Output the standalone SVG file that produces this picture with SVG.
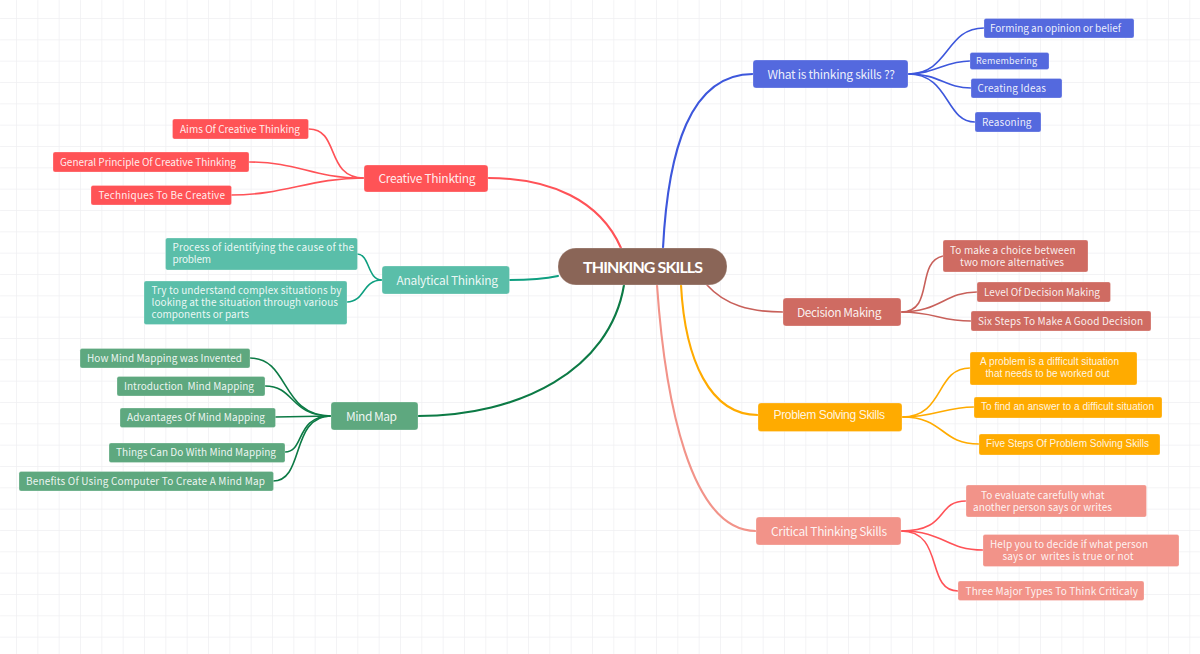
<svg xmlns="http://www.w3.org/2000/svg" width="1200" height="654" viewBox="0 0 1200 654">
<style>
text{fill:#fff;fill-opacity:.9;font-family:"Noto Sans CJK SC","Noto Sans",sans-serif;font-size:10px;dominant-baseline:central;white-space:pre}
.m{font-size:12px}.r{font-family:"Liberation Sans",Arial,sans-serif}
.t{font-family:Lato,"Noto Sans",sans-serif;font-size:16px;font-weight:700;fill-opacity:1}
.s{font-size:9px}
rect{stroke:#fff;stroke-opacity:.25;stroke-width:1}
.c path{fill:none;stroke-width:1.6;stroke-linecap:round}
.c .b{stroke-width:2.1}
.blue{fill:#5469de}.red{fill:#ff5356}.teal{fill:#5abea9}.green{fill:#5ea87f}.dec{fill:#cf6b62}.org{fill:#ffab00}.pink{fill:#f29389}.root{fill:#8a6557}
</style>
<defs><pattern id="g" x="16" y="18" width="21.333" height="21.333" patternUnits="userSpaceOnUse"><path d="M0 -1V22.4M-1 0H22.4" fill="none" stroke="#efeff2" stroke-width="1.4"/></pattern></defs>
<rect width="1200" height="654" fill="#fff" stroke="none"/>
<rect width="1200" height="654" fill="url(#g)" stroke="none"/>
<g id="connectors" class="c">
<g stroke="#3d57dc">
<path class="b" d="M663 248C668 150 690 74 753 74"/>
<path d="M908 74C950 74 945 28 984 28"/><path d="M908 74C935 74 945 61 970 61"/><path d="M908 74C940 74 945 88 971 88"/><path d="M908 74C950 74 945 122 975 122"/></g>
<g stroke="#ff5257">
<path class="b" d="M621 248C600 200 550 178 488 178"/>
<path d="M364 178C325 178 340 129 309 129"/><path d="M364 178C310 178 300 162 249 162"/><path d="M364 178C310 178 285 195 231 195"/></g>
<g stroke="#0e9f80">
<path class="b" d="M558 276C540 280 525 280 509 280"/>
<path d="M382 280C367 280 370 254 357 254"/><path d="M382 280C362 280 365 302 347 302"/></g>
<g stroke="#0c7a45">
<path class="b" d="M624 285C610 370 520 416 418 416"/>
<path d="M331 416C280 416 290 358 250 358"/><path d="M331 416C290 416 295 386 265 386"/><path d="M331 416L275 417"/><path d="M331 416C295 416 305 452 285 452"/><path d="M331 416C290 416 305 481 273 481"/></g>
<g stroke="#c8605a">
<path d="M707 285C725 305 750 312 783 312"/>
<path d="M901 312C935 312 915 262 943 256"/><path d="M901 312C940 312 945 292 977 292"/><path d="M901 312C935 312 940 321 971 321"/></g>
<g stroke="#ffab00">
<path class="b" d="M681 285C685 360 710 415 758 415"/>
<path d="M902 417C945 417 935 368 970 368"/><path d="M902 417C935 417 945 407 974 407"/><path d="M902 417C945 417 940 444 979 444"/></g>
<path class="b" stroke="#f29389" d="M657 285C665 400 690 531 756 531"/>
<g stroke="#ff5257">
<path d="M901 531C950 531 935 501 966 501"/><path d="M901 531C945 531 945 550 983 550"/><path d="M901 531C945 531 925 591 958 591"/></g>
</g>
<g id="root"><rect class="root" x="558" y="248" width="169" height="37" rx="18"/><text class="t" x="583" y="266" textLength="120">THINKING SKILLS</text></g>
<g id="what"><rect class="blue" x="753" y="60" width="155" height="28" rx="3"/><text class="m" x="767.5" y="73.500" textLength="127.5">What is thinking skills ??</text></g>
<g id="forming"><rect class="blue" x="984" y="18.500" width="150" height="19.500" rx="2"/><text x="990" y="27.500" textLength="131">Forming an opinion or belief</text></g>
<g id="remembering"><rect class="blue" x="970" y="52.500" width="79" height="17" rx="2"/><text class="s" x="976" y="60.500" textLength="61">Remembering</text></g>
<g id="creating"><rect class="blue" x="971" y="78.500" width="91" height="19.500" rx="2"/><text x="977.500" y="87.500" textLength="68.500">Creating Ideas</text></g>
<g id="reasoning"><rect class="blue" x="975" y="112" width="66" height="20" rx="2"/><text x="982" y="121.500" textLength="49.500">Reasoning</text></g>
<g id="decision"><rect class="dec" x="783" y="298" width="118" height="28" rx="3"/><text class="m" x="797" y="311.500" textLength="84.500">Decision Making</text></g>
<g id="choice"><rect class="dec" x="943" y="240" width="145" height="32" rx="2"/><text><tspan x="950" y="248.500" textLength="125.500">To make a choice between</tspan><tspan x="960" y="260.500" textLength="104">two more alternatives</tspan></text></g>
<g id="level"><rect class="dec" x="977" y="282" width="133.500" height="20" rx="2"/><text x="984" y="291.500" textLength="116">Level Of Decision Making</text></g>
<g id="six"><rect class="dec" x="971" y="311" width="180" height="20" rx="2"/><text x="978" y="320.500" textLength="165">Six Steps To Make A Good Decision</text></g>
<g id="problem"><rect class="org" x="758" y="403" width="144" height="28.500" rx="3"/><text class="m r" x="773.500" y="415" textLength="111.500">Problem Solving Skills</text></g>
<g id="difficult"><rect class="org" x="970" y="352" width="167" height="33" rx="2"/><text class="r"><tspan x="980" y="361" textLength="139">A problem is a difficult situation</tspan><tspan x="985.500" y="373" textLength="124">that needs to be worked out</tspan></text></g>
<g id="answer"><rect class="org" x="974" y="397" width="188" height="21" rx="2"/><text class="r" x="981" y="406" textLength="173">To find an answer to a difficult situation</text></g>
<g id="five"><rect class="org" x="979" y="434" width="181" height="21" rx="2"/><text class="r" x="986" y="443" textLength="163">Five Steps Of Problem Solving Skills</text></g>
<g id="critical"><rect class="pink" x="756" y="517" width="145" height="28" rx="3"/><text class="m" x="771" y="530.500" textLength="116">Critical Thinking Skills</text></g>
<g id="evaluate"><rect class="pink" x="966" y="485" width="180.500" height="32" rx="2"/><text><tspan x="981" y="493.500" textLength="123.500">To evaluate carefully what</tspan><tspan x="973" y="505.500" textLength="139">another person says or writes</tspan></text></g>
<g id="help"><rect class="pink" x="983" y="534.500" width="196" height="32" rx="2"/><text><tspan x="990" y="542.500" textLength="158">Help you to decide if what person</tspan><tspan x="1002.500" y="554.500" textLength="131">says or  writes is true or not</tspan></text></g>
<g id="three"><rect class="pink" x="958" y="581" width="186" height="19.500" rx="2"/><text x="965.500" y="590.500" textLength="172.500">Three Major Types To Think Criticaly</text></g>
<g id="creative"><rect class="red" x="364" y="165" width="124" height="27" rx="3"/><text class="m" x="378.500" y="177.500" textLength="97">Creative Thinkting</text></g>
<g id="aims"><rect class="red" x="172.500" y="119" width="136" height="20" rx="2"/><text x="180" y="128" textLength="120">Aims Of Creative Thinking</text></g>
<g id="general"><rect class="red" x="53" y="152" width="196" height="20" rx="2"/><text x="60" y="161" textLength="176">General Principle Of Creative Thinking</text></g>
<g id="techniques"><rect class="red" x="91" y="185.500" width="140.500" height="19.500" rx="2"/><text x="98.500" y="194.500" textLength="126.500">Techniques To Be Creative</text></g>
<g id="analytical"><rect class="teal" x="382" y="266" width="127.500" height="28" rx="3"/><text class="m" x="396.500" y="279" textLength="101.500">Analytical Thinking</text></g>
<g id="process"><rect class="teal" x="165.500" y="238" width="192" height="32" rx="2"/><text><tspan x="172.500" y="245.500" textLength="181.500">Process of identifying the cause of the</tspan><tspan x="172.500" y="257.500" textLength="38.500">problem</tspan></text></g>
<g id="try"><rect class="teal" x="144" y="281" width="203" height="43.500" rx="2"/><text><tspan x="151.500" y="288.500" textLength="190">Try to understand complex situations by</tspan><tspan x="151.500" y="300.500" textLength="186.500">looking at the situation through various</tspan><tspan x="151.500" y="312.500" textLength="97.500">components or parts</tspan></text></g>
<g id="mindmap"><rect class="green" x="331" y="402" width="87" height="28" rx="3"/><text class="m" x="346" y="415.500" textLength="51">Mind Map</text></g>
<g id="how"><rect class="green" x="80" y="348.500" width="170" height="19.500" rx="2"/><text x="87" y="357.500" textLength="155">How Mind Mapping was Invented</text></g>
<g id="intro"><rect class="green" x="117" y="376.500" width="148" height="19.500" rx="2"/><text x="124" y="385.500" textLength="130">Introduction  Mind Mapping</text></g>
<g id="advantages"><rect class="green" x="120" y="408" width="155.500" height="19.500" rx="2"/><text x="127" y="416.500" textLength="138">Advantages Of Mind Mapping</text></g>
<g id="things"><rect class="green" x="109" y="443" width="176" height="19.500" rx="2"/><text x="116" y="451.500" textLength="160">Things Can Do With Mind Mapping</text></g>
<g id="benefits"><rect class="green" x="19" y="471.500" width="254.500" height="19.500" rx="2"/><text x="26" y="480.500" textLength="239">Benefits Of Using Computer To Create A Mind Map</text></g>
</svg>
